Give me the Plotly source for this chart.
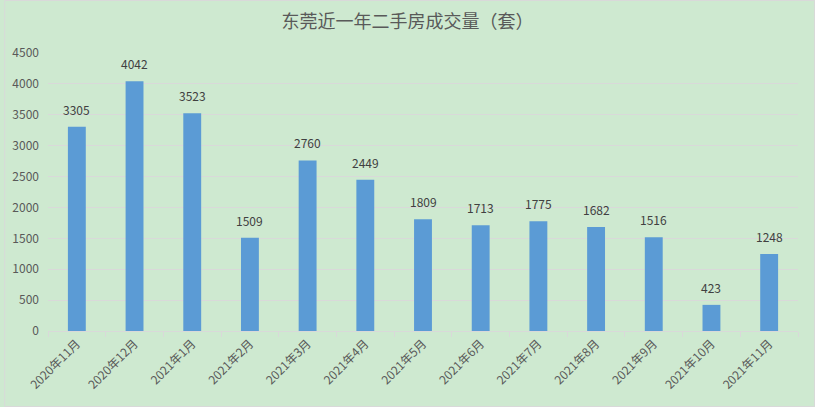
import plotly.graph_objects as go

categories = ["2020年11月", "2020年12月", "2021年1月", "2021年2月", "2021年3月", "2021年4月",
              "2021年5月", "2021年6月", "2021年7月", "2021年8月", "2021年9月", "2021年10月", "2021年11月"]
values = [3305, 4042, 3523, 1509, 2760, 2449, 1809, 1713, 1775, 1682, 1516, 423, 1248]
y_ticks = [0, 500, 1000, 1500, 2000, 2500, 3000, 3500, 4000, 4500]

W, H = 815, 407
L, R, T, B = 44, 17, 53, 76
pw, ph = W - L - R, H - T - B

font_family = "Noto Sans CJK SC, Noto Sans, sans-serif"

fig = go.Figure(go.Bar(
    x=categories, y=values,
    marker=dict(color="#5B9BD5", line=dict(width=0)),
    cliponaxis=False,
))

for c, v in zip(categories, values):
    fig.add_annotation(x=c, y=v, text=str(v), showarrow=False, yanchor="bottom", yshift=7,
                       font=dict(size=12, color="#404040", family=font_family))

fig.update_layout(
    width=W, height=H,
    margin=dict(l=L, r=R, t=T, b=B, pad=0),
    paper_bgcolor="#CEE9D0", plot_bgcolor="#CEE9D0",
    bargap=0.69,
    showlegend=False,
    title=dict(text="东莞近一年二手房成交量（套）", x=0.5, xanchor="center", y=1 - 22 / H, yanchor="middle",
               font=dict(size=18, color="#595959", family=font_family)),
    font=dict(family=font_family, color="#595959"),
    xaxis=dict(
        type="category", tickangle=-45, tickfont=dict(size=12, color="#595959"),
        showline=True, linecolor="#D9D9D9", linewidth=1,
        ticks="outside", tickson="boundaries", ticklen=5, tickcolor="#D9D9D9",
        showgrid=False,
    ),
    yaxis=dict(
        range=[0, 4500], tickvals=y_ticks, tickfont=dict(size=12, color="#595959"),
        showgrid=True, gridcolor="#D9D9D9", gridwidth=1, zeroline=False,
        showline=False, ticks="", ticklabelstandoff=8,
    ),
    shapes=[dict(
        type="rect", xref="paper", yref="paper",
        x0=(-L + 0.5) / pw, x1=1 + (R - 0.5) / pw,
        y0=(-B + 0.5) / ph, y1=1 + (T - 0.5) / ph,
        line=dict(color="#D9D9D9", width=1), layer="above",
    )],
)

fig.write_html("out.html")
